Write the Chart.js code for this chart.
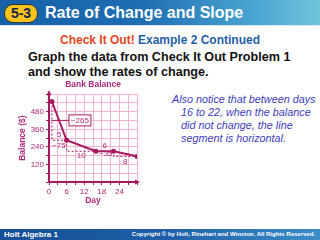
<!DOCTYPE html>
<html>
<head>
<meta charset="utf-8">
<script src="https://cdn.jsdelivr.net/npm/chart.js@4"></script>
<style>
  html, body { margin: 0; padding: 0; background: #fff; }
  #slide { position: relative; width: 320px; height: 240px; overflow: hidden; font-family: "Liberation Sans", Arial, sans-serif; }
  .abs { position: absolute; white-space: nowrap; }
  #hdr { left: 0; top: 0; width: 320px; height: 25px; background: linear-gradient(to right, #1660a8 0%, #1f6eb2 45%, #4aa6d2 80%, #72c4dc 100%); border-bottom: 1px solid #d8e4ee; }
  #badge { left: 4px; top: 4px; width: 32px; height: 17px; border-radius: 9px; background: #f6c41a; border: 1px solid #333; font: bold 14px/17px "Liberation Sans", Arial, sans-serif; color: #1a2450; text-align: center; }
  #ttl { left: 45px; top: 3px; font: bold 16px/20px "Liberation Sans", Arial, sans-serif; color: #fff; }
  #sub { left: 0; width: 320px; top: 33px; text-align: center; font: bold 12px/14px "Liberation Sans", Arial, sans-serif; }
  #graph { left: 28px; top: 50px; font: bold 12.6px/15px "Liberation Sans", Arial, sans-serif; color: #111; }
  #note { left: 172px; top: 93px; font: italic 10.8px/13px "Liberation Sans", Arial, sans-serif; color: #3d3cc0; }
  #ftr { left: 0; top: 229px; width: 320px; height: 11px; background: linear-gradient(to right, #174f96 0%, #1d5ea6 50%, #3c8cc8 100%); }
  #ftr span { position: absolute; top: 0; font: bold 8px/11px "Liberation Sans", Arial, sans-serif; color: #fff; }
  #wrap { left: 0; top: 78px; width: 150px; height: 132px; }
</style>
</head>
<body>
<div id="slide">
  <div id="hdr" class="abs"></div>
  <div id="badge" class="abs">5-3</div>
  <div id="ttl" class="abs">Rate of Change and Slope</div>
  <div id="sub" class="abs"><span style="color:#e5451e">Check It Out!</span> <span style="color:#1f5fa8">Example 2 Continued</span></div>
  <div id="graph" class="abs">Graph the data from Check It Out Problem 1<br>and show the rates of change.</div>
  <div id="note" class="abs">Also notice that between days<br>&nbsp;&nbsp;&nbsp;16 to 22, when the balance<br>&nbsp;&nbsp;&nbsp;did not change, the line<br>&nbsp;&nbsp;&nbsp;segment is horizontal.</div>
  <div id="wrap" class="abs"><canvas id="chart" width="150" height="132"></canvas></div>
  <div id="ftr" class="abs">
    <span style="left:4px">Holt Algebra 1</span>
    <span style="right:5px;font-size:6px;">Copyright © by Holt, Rinehart and Winston. All Rights Reserved.</span>
  </div>
</div>
<script>
const days = [1, 6, 16, 22, 30];
const balances = [550, 285, 210, 210, 175];
const yTickLabels = [120, 240, 360, 480];
const xTickLabels = [0, 6, 12, 18, 24];

const MAG = '#a8185f';
const TXT = '#b0287a';
const GRID = '#f0b4d2';

// where each rise/run label sits relative to its dashed line
const riseSide = ['box', 'left', 'none', 'left'];
const runSide = ['above', 'below', 'above', 'below'];

const slopePlugin = {
    id: 'slopes',
    afterDatasetsDraw(chart) {
        const c = chart.ctx;
        const xs = chart.scales.x, ys = chart.scales.y;
        c.save();
        c.font = '8px "Liberation Sans", Arial, sans-serif';
        c.fillStyle = TXT;
        c.textBaseline = 'middle';
        for (let i = 0; i < days.length - 1; i++) {
            const x1 = xs.getPixelForValue(days[i]), x2 = xs.getPixelForValue(days[i + 1]);
            const y1 = ys.getPixelForValue(balances[i]), y2 = ys.getPixelForValue(balances[i + 1]);
            const rise = balances[i + 1] - balances[i];
            const run = days[i + 1] - days[i];
            c.strokeStyle = MAG;
            c.lineWidth = 1;
            if (rise !== 0) {
                c.setLineDash([2, 2]);
                c.beginPath();
                c.moveTo(x1, y1); c.lineTo(x1, y2); c.lineTo(x2, y2);
                c.stroke();
                c.setLineDash([]);
                const my = (y1 + y2) / 2;
                if (riseSide[i] === 'box') {
                    const bx = x1 + 17, by = my - 6;
                    c.fillStyle = '#fff';
                    c.fillRect(bx, by, 22, 11);
                    c.strokeRect(bx, by, 22, 11);
                    c.beginPath(); c.moveTo(x1, by + 5.5); c.lineTo(bx, by + 5.5); c.stroke();
                    c.fillStyle = TXT;
                    c.textAlign = 'center';
                    c.fillText('\u2212' + Math.abs(rise), bx + 11, by + 6);
                } else if (riseSide[i] === 'left') {
                    c.textAlign = 'right';
                    c.fillText('\u2212' + Math.abs(rise), x1 - 1, my);
                }
            }
            c.textAlign = 'center';
            const rx = (x1 + x2) / 2;
            const ry = runSide[i] === 'above' ? y2 - 5 : y2 + 5;
            c.fillText(String(run), rx, ry);
        }
        // axis arrows
        const ox = xs.getPixelForValue(0), oy = ys.getPixelForValue(0);
        const top = ys.getPixelForValue(ys.max), right = xs.getPixelForValue(xs.max);
        c.fillStyle = MAG;
        c.beginPath(); c.moveTo(ox, top - 4); c.lineTo(ox - 2.5, top + 1); c.lineTo(ox + 2.5, top + 1); c.fill();
        c.beginPath(); c.moveTo(right + 3, oy); c.lineTo(right - 2, oy - 2.5); c.lineTo(right - 2, oy + 2.5); c.fill();
        c.restore();
    }
};

new Chart(document.getElementById('chart'), {
    type: 'line',
    data: {
        datasets: [{
            data: days.map((d, i) => ({ x: d, y: balances[i] })),
            borderColor: MAG,
            backgroundColor: MAG,
            borderWidth: 2,
            pointRadius: 2.5,
            pointBorderWidth: 0,
            tension: 0
        }]
    },
    options: {
        responsive: false,
        animation: false,
        layout: { padding: { left: 14, right: 13, top: 0, bottom: 0 } },
        plugins: {
            legend: { display: false },
            tooltip: { enabled: false },
            title: {
                display: true,
                text: 'Bank Balance',
                fullSize: false,
                color: TXT,
                font: { family: '"Liberation Sans", Arial, sans-serif', size: 8.5, weight: 'bold' },
                padding: { top: 2, bottom: 4 }
            }
        },
        scales: {
            x: {
                type: 'linear',
                min: 0, max: 30,
                afterFit: s => { s.height = 28; },
                ticks: {
                    stepSize: 3,
                    autoSkip: false,
                    maxRotation: 0,
                    color: TXT,
                    padding: 2,
                    font: { family: '"Liberation Sans", Arial, sans-serif', size: 8 },
                    callback: v => xTickLabels.includes(v) ? String(v) : ''
                },
                grid: { color: GRID, tickLength: 3, tickColor: MAG },
                border: { color: MAG, width: 2 },
                title: { display: true, text: 'Day', color: TXT, padding: { top: 2, bottom: 4 },
                    font: { family: '"Liberation Sans", Arial, sans-serif', size: 8.5, weight: 'bold' } }
            },
            y: {
                min: 0, max: 600,
                afterFit: s => { s.width = 35; },
                ticks: {
                    stepSize: 60,
                    autoSkip: false,
                    color: TXT,
                    padding: 2,
                    font: { family: '"Liberation Sans", Arial, sans-serif', size: 8 },
                    callback: v => yTickLabels.includes(v) ? String(v) : ''
                },
                grid: { color: GRID, tickLength: 3, tickColor: MAG },
                border: { color: MAG, width: 2 },
                title: { display: true, text: 'Balance ($)', color: TXT, padding: { top: 4, bottom: 2 },
                    font: { family: '"Liberation Sans", Arial, sans-serif', size: 8.5, weight: 'bold' } }
            }
        }
    },
    plugins: [slopePlugin]
});
</script>
</body>
</html>
